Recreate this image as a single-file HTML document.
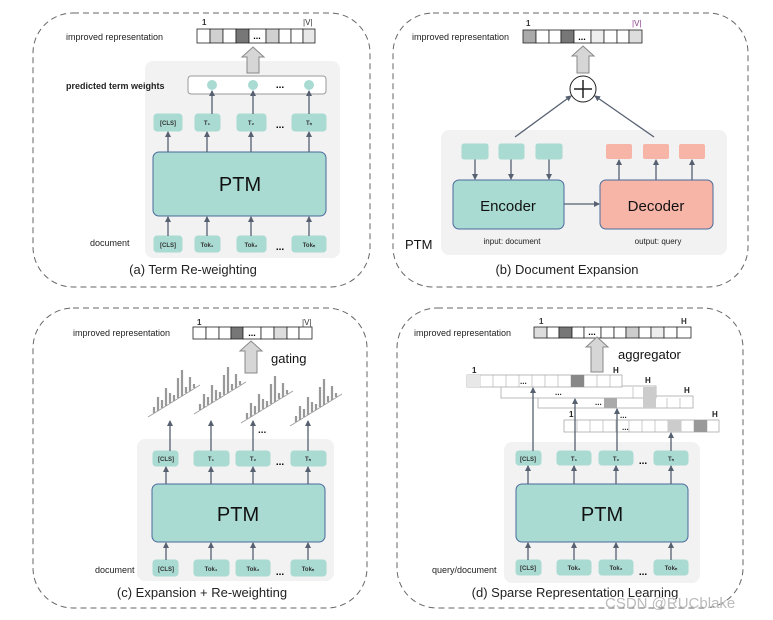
<!DOCTYPE html>
<html><head><meta charset="utf-8"><style>
body{margin:0;background:#fff}
svg{display:block;font-family:"Liberation Sans",sans-serif}
.t{font-size:6px;font-weight:bold;fill:#333;text-anchor:middle}
.lb{font-size:9px;fill:#222}
.cap{font-size:13px;fill:#222;text-anchor:middle}
.tok{fill:#a9dbd3;stroke:#a9dbd3}
.ln{stroke:#566070;stroke-width:1.3;fill:none}
.cell{stroke:#222;stroke-width:0.8}
</style></head><body>
<svg width="773" height="620" viewBox="0 0 773 620">
<defs>
<marker id="ah" markerWidth="6" markerHeight="6" refX="5" refY="3" orient="auto" markerUnits="userSpaceOnUse"><path d="M0,0 L6,3 L0,6 Z" fill="#566070"/></marker>
</defs>

<g fill="none" stroke="#666" stroke-dasharray="6,4" stroke-width="1">
<rect x="33" y="13" width="337" height="274" rx="40"/>
<rect x="393" y="13" width="355" height="274" rx="40"/>
<rect x="33" y="308" width="334" height="300" rx="40"/>
<rect x="397" y="308" width="346" height="300" rx="40"/>
</g>

<!-- (a) -->
<rect x="145" y="61" width="195" height="197" rx="8" fill="#f2f2f2"/>
<text x="66" y="40" class="lb">improved representation</text>
<text x="202" y="25" font-size="8" font-weight="bold" fill="#333">1</text>
<text x="303" y="25" font-size="8" fill="#333">|V|</text>
<g class="cell">
<rect x="197" y="29" width="13" height="14" fill="#fff"/><rect x="210" y="29" width="13" height="14" fill="#d0d0d0"/><rect x="223" y="29" width="13" height="14" fill="#fff"/><rect x="236" y="29" width="13" height="14" fill="#777"/><rect x="249" y="29" width="17" height="14" fill="#fff"/><rect x="266" y="29" width="13" height="14" fill="#d0d0d0"/><rect x="279" y="29" width="12" height="14" fill="#fff"/><rect x="291" y="29" width="12" height="14" fill="#fff"/><rect x="303" y="29" width="12" height="14" fill="#e8e8e8"/>
</g>
<text x="257" y="39" font-size="9" font-weight="bold" text-anchor="middle">...</text>
<path d="M253,47 L264,57 L259,57 L259,73 L247,73 L247,57 L242,57 Z" fill="#d6d6d6" stroke="#888"/>
<text x="66" y="89" class="lb" font-weight="bold">predicted term weights</text>
<rect x="188" y="76" width="138" height="18" rx="3" fill="#fff" stroke="#999"/>
<g fill="#a9dbd3"><circle cx="212" cy="85" r="5"/><circle cx="253" cy="85" r="5"/><circle cx="309" cy="85" r="5"/></g>
<text x="280" y="88" font-size="10" font-weight="bold" text-anchor="middle">...</text>
<g class="tok"><rect x="154" y="114" width="28" height="17" rx="3"/><rect x="195" y="114" width="25" height="17" rx="3"/><rect x="237" y="114" width="29" height="17" rx="3"/><rect x="292" y="114" width="34" height="17" rx="3"/>
<rect x="154" y="236" width="28" height="16" rx="3"/><rect x="195" y="236" width="25" height="16" rx="3"/><rect x="237" y="236" width="29" height="16" rx="3"/><rect x="292" y="236" width="34" height="16" rx="3"/></g>
<text x="168" y="125" class="t">[CLS]</text><text x="207" y="125" class="t">T₁</text><text x="251" y="125" class="t">T₂</text><text x="309" y="125" class="t">Tₙ</text>
<text x="168" y="247" class="t">[CLS]</text><text x="207" y="247" class="t">Tok₁</text><text x="251" y="247" class="t">Tok₂</text><text x="309" y="247" class="t">Tokₙ</text>
<text x="280" y="128" font-size="10" font-weight="bold" text-anchor="middle">...</text>
<text x="280" y="250" font-size="10" font-weight="bold" text-anchor="middle">...</text>
<rect x="153" y="152" width="173" height="64" rx="6" fill="#a9dbd3" stroke="#4a6a9a"/>
<text x="240" y="191" font-size="20" text-anchor="middle" fill="#111">PTM</text>
<g class="ln" marker-end="url(#ah)">
<line x1="168" y1="236" x2="168" y2="217"/><line x1="207" y1="236" x2="207" y2="217"/><line x1="251" y1="236" x2="251" y2="217"/><line x1="309" y1="236" x2="309" y2="217"/>
<line x1="168" y1="152" x2="168" y2="132"/><line x1="207" y1="152" x2="207" y2="132"/><line x1="251" y1="152" x2="251" y2="132"/><line x1="309" y1="152" x2="309" y2="132"/>
<line x1="212" y1="114" x2="212" y2="91"/><line x1="253" y1="114" x2="253" y2="91"/><line x1="309" y1="114" x2="309" y2="91"/>
</g>
<text x="90" y="246" font-size="9" fill="#222">document</text>
<text x="193" y="274" class="cap">(a) Term Re-weighting</text>

<!-- (b) -->
<rect x="441" y="130" width="286" height="125" rx="8" fill="#f2f2f2"/>
<text x="412" y="40" class="lb">improved representation</text>
<text x="526" y="26" font-size="8" font-weight="bold" fill="#333">1</text>
<text x="632" y="26" font-size="8" fill="#8a3a8a">|V|</text>
<g class="cell">
<rect x="523" y="30" width="13" height="13" fill="#aaa"/><rect x="536" y="30" width="13" height="13" fill="#fff"/><rect x="549" y="30" width="12" height="13" fill="#fff"/><rect x="561" y="30" width="13" height="13" fill="#777"/><rect x="574" y="30" width="17" height="13" fill="#fff"/><rect x="591" y="30" width="13" height="13" fill="#eee"/><rect x="604" y="30" width="13" height="13" fill="#fff"/><rect x="617" y="30" width="12" height="13" fill="#fff"/><rect x="629" y="30" width="13" height="13" fill="#ddd"/>
</g>
<text x="582" y="40" font-size="9" font-weight="bold" text-anchor="middle">...</text>
<path d="M583,46 L594,56 L589,56 L589,73 L577,73 L577,56 L572,56 Z" fill="#d6d6d6" stroke="#888"/>
<circle cx="583" cy="89" r="13" fill="#fff" stroke="#222"/>
<line x1="583" y1="80" x2="583" y2="98" stroke="#222" stroke-width="1.5"/><line x1="574" y1="89" x2="592" y2="89" stroke="#222" stroke-width="1.5"/>
<g class="ln" marker-end="url(#ah)">
<line x1="515" y1="137" x2="571" y2="96"/><line x1="654" y1="137" x2="595" y2="96"/>
<line x1="475" y1="159" x2="475" y2="179"/><line x1="511" y1="159" x2="511" y2="179"/><line x1="549" y1="159" x2="549" y2="179"/>
<line x1="619" y1="180" x2="619" y2="160"/><line x1="656" y1="180" x2="656" y2="160"/><line x1="692" y1="180" x2="692" y2="160"/>
<line x1="564" y1="204" x2="599" y2="204"/>
</g>
<g class="tok"><rect x="462" y="144" width="26" height="15" rx="2"/><rect x="499" y="144" width="25" height="15" rx="2"/><rect x="536" y="144" width="26" height="15" rx="2"/></g>
<g fill="#f7b5a8"><rect x="606" y="144" width="26" height="15" rx="2"/><rect x="643" y="144" width="26" height="15" rx="2"/><rect x="679" y="144" width="26" height="15" rx="2"/></g>
<rect x="453" y="180" width="111" height="49" rx="6" fill="#a9dbd3" stroke="#4a6a9a"/>
<rect x="600" y="180" width="113" height="49" rx="6" fill="#f7b5a8" stroke="#4a6a9a"/>
<text x="508" y="211" font-size="15" text-anchor="middle" fill="#111">Encoder</text>
<text x="656" y="211" font-size="15" text-anchor="middle" fill="#111">Decoder</text>
<text x="512" y="244" font-size="8" text-anchor="middle" fill="#222">input: document</text>
<text x="658" y="244" font-size="8" text-anchor="middle" fill="#222">output: query</text>
<text x="405" y="249" font-size="13" fill="#111">PTM</text>
<text x="567" y="274" class="cap">(b) Document Expansion</text>

<!-- (c) -->
<rect x="137" y="439" width="197" height="142" rx="8" fill="#f2f2f2"/>
<text x="73" y="336" class="lb">improved representation</text>
<text x="197" y="325" font-size="8" font-weight="bold" fill="#333">1</text>
<text x="302" y="325" font-size="8" fill="#333">|V|</text>
<g class="cell">
<rect x="193" y="327" width="13" height="12" fill="#fff"/><rect x="206" y="327" width="13" height="12" fill="#fff"/><rect x="219" y="327" width="12" height="12" fill="#fff"/><rect x="231" y="327" width="12" height="12" fill="#777"/><rect x="243" y="327" width="18" height="12" fill="#fff"/><rect x="261" y="327" width="13" height="12" fill="#fff"/><rect x="274" y="327" width="13" height="12" fill="#ddd"/><rect x="287" y="327" width="12" height="12" fill="#fff"/><rect x="299" y="327" width="13" height="12" fill="#fff"/>
</g>
<text x="252" y="336" font-size="9" font-weight="bold" text-anchor="middle">...</text>
<path d="M251,341 L262,351 L257,351 L257,373 L245,373 L245,351 L240,351 Z" fill="#d6d6d6" stroke="#888"/>
<text x="271" y="363" font-size="13" fill="#111">gating</text>
<g stroke="#999" stroke-width="2.2" fill="none">
<g id="h1" transform="translate(148,0)">
<line x1="0" y1="417" x2="52" y2="385" stroke-width="0.8"/>
<path d="M6,413 v-6 M10,411 v-14 M14,408 v-8 M18,406 v-18 M22,403 v-10 M26,401 v-6 M30,398 v-20 M34,396 v-26 M38,393 v-6 M42,391 v-14 M46,388 v-4"/>
</g>
<use href="#h1" transform="translate(46,-3)"/>
<use href="#h1" transform="translate(93,6)"/>
<use href="#h1" transform="translate(142,9)"/>
</g>
<text x="258" y="433" font-size="10" font-weight="bold" fill="#222">...</text>
<g class="tok"><rect x="153" y="451" width="25" height="15" rx="3"/><rect x="194" y="451" width="35" height="15" rx="3"/><rect x="236" y="451" width="34" height="15" rx="3"/><rect x="291" y="451" width="35" height="15" rx="3"/>
<rect x="153" y="560" width="25" height="16" rx="3"/><rect x="194" y="560" width="35" height="16" rx="3"/><rect x="236" y="560" width="34" height="16" rx="3"/><rect x="291" y="560" width="35" height="16" rx="3"/></g>
<text x="166" y="461" class="t">[CLS]</text><text x="211" y="461" class="t">T₁</text><text x="253" y="461" class="t">T₂</text><text x="308" y="461" class="t">Tₙ</text>
<text x="166" y="571" class="t">[CLS]</text><text x="211" y="571" class="t">Tok₁</text><text x="253" y="571" class="t">Tok₂</text><text x="308" y="571" class="t">Tokₙ</text>
<text x="280" y="465" font-size="10" font-weight="bold" text-anchor="middle">...</text>
<text x="280" y="575" font-size="10" font-weight="bold" text-anchor="middle">...</text>
<rect x="152" y="484" width="173" height="58" rx="6" fill="#a9dbd3" stroke="#4a6a9a"/>
<text x="238" y="521" font-size="20" text-anchor="middle" fill="#111">PTM</text>
<g class="ln" marker-end="url(#ah)">
<line x1="166" y1="560" x2="166" y2="543"/><line x1="211" y1="560" x2="211" y2="543"/><line x1="253" y1="560" x2="253" y2="543"/><line x1="308" y1="560" x2="308" y2="543"/>
<line x1="166" y1="484" x2="166" y2="467"/><line x1="211" y1="484" x2="211" y2="467"/><line x1="253" y1="484" x2="253" y2="467"/><line x1="308" y1="484" x2="308" y2="467"/>
<line x1="170" y1="451" x2="170" y2="421"/><line x1="211" y1="451" x2="211" y2="421"/><line x1="253" y1="451" x2="253" y2="421"/><line x1="308" y1="451" x2="308" y2="421"/>
</g>
<text x="95" y="573" font-size="9" fill="#222">document</text>
<text x="202" y="597" class="cap">(c) Expansion + Re-weighting</text>

<!-- (d) -->
<rect x="504" y="442" width="196" height="141" rx="8" fill="#f2f2f2"/>
<text x="414" y="336" class="lb">improved representation</text>
<text x="539" y="324" font-size="8" font-weight="bold" fill="#333">1</text>
<text x="681" y="324" font-size="8" font-weight="bold" fill="#333">H</text>
<g class="cell">
<rect x="534" y="327" width="13" height="11" fill="#ddd"/><rect x="547" y="327" width="12" height="11" fill="#fff"/><rect x="559" y="327" width="13" height="11" fill="#777"/><rect x="572" y="327" width="12" height="11" fill="#fff"/><rect x="584" y="327" width="17" height="11" fill="#fff"/><rect x="601" y="327" width="13" height="11" fill="#fff"/><rect x="614" y="327" width="12" height="11" fill="#fff"/><rect x="626" y="327" width="13" height="11" fill="#ccc"/><rect x="639" y="327" width="12" height="11" fill="#fff"/><rect x="651" y="327" width="13" height="11" fill="#eee"/><rect x="664" y="327" width="13" height="11" fill="#fff"/><rect x="677" y="327" width="14" height="11" fill="#fff"/>
</g>
<text x="592" y="335" font-size="9" font-weight="bold" text-anchor="middle">...</text>
<path d="M597,337 L608,347 L603,347 L603,372 L591,372 L591,347 L586,347 Z" fill="#d6d6d6" stroke="#888"/>
<text x="618" y="359" font-size="13" fill="#111">aggregator</text>
<g stroke="#aaa" stroke-width="0.8">
<rect x="538" y="396" width="155" height="12" fill="#fff"/>
<rect x="501" y="386" width="155" height="12" fill="#fff"/>
<rect x="467" y="375" width="155" height="12" fill="#fff"/>
<rect x="564" y="420" width="155" height="12" fill="#fff"/>
</g>
<g stroke="#aaa" stroke-width="0.6">
<path d="M480,375v12M493,375v12M506,375v12M519,375v12M532,375v12M545,375v12M558,375v12M571,375v12M584,375v12M597,375v12M610,375v12"/>
<path d="M633,387v11M646,387v11"/>
<path d="M667,398v10M680,398v10"/>
<path d="M577,420v12M590,420v12M603,420v12M616,420v12M629,420v12M642,420v12M655,420v12M668,420v12M681,420v12M694,420v12M707,420v12"/>
</g>
<rect x="467" y="375" width="13" height="12" fill="#e8e8e8"/>
<rect x="571" y="375" width="13" height="12" fill="#888"/>
<rect x="643" y="387" width="13" height="11" fill="#ccc"/>
<rect x="604" y="398" width="13" height="10" fill="#aaa"/>
<rect x="643" y="398" width="13" height="10" fill="#ccc"/>
<rect x="668" y="420" width="13" height="12" fill="#ccc"/>
<rect x="694" y="420" width="13" height="12" fill="#999"/>
<g font-size="8" font-weight="bold" fill="#222">
<text x="472" y="373">1</text><text x="613" y="373">H</text><text x="645" y="383">H</text><text x="684" y="393">H</text>
<text x="569" y="417">1</text><text x="712" y="417">H</text>
<text x="520" y="384">...</text><text x="555" y="395">...</text><text x="595" y="405">...</text><text x="620" y="418">...</text><text x="622" y="430">...</text>
</g>
<g class="tok"><rect x="516" y="451" width="25" height="14" rx="3"/><rect x="557" y="451" width="34" height="14" rx="3"/><rect x="599" y="451" width="34" height="14" rx="3"/><rect x="654" y="451" width="34" height="14" rx="3"/>
<rect x="516" y="560" width="25" height="15" rx="3"/><rect x="557" y="560" width="34" height="15" rx="3"/><rect x="599" y="560" width="34" height="15" rx="3"/><rect x="654" y="560" width="34" height="15" rx="3"/></g>
<text x="528" y="461" class="t">[CLS]</text><text x="574" y="461" class="t">T₁</text><text x="616" y="461" class="t">T₂</text><text x="671" y="461" class="t">Tₙ</text>
<text x="528" y="570" class="t">[CLS]</text><text x="574" y="570" class="t">Tok₁</text><text x="616" y="570" class="t">Tok₂</text><text x="671" y="570" class="t">Tokₙ</text>
<text x="643" y="464" font-size="10" font-weight="bold" text-anchor="middle">...</text>
<text x="643" y="575" font-size="10" font-weight="bold" text-anchor="middle">...</text>
<rect x="516" y="484" width="172" height="58" rx="6" fill="#a9dbd3" stroke="#4a6a9a"/>
<text x="602" y="521" font-size="20" text-anchor="middle" fill="#111">PTM</text>
<g class="ln" marker-end="url(#ah)">
<line x1="528" y1="560" x2="528" y2="543"/><line x1="574" y1="560" x2="574" y2="543"/><line x1="616" y1="560" x2="616" y2="543"/><line x1="671" y1="560" x2="671" y2="543"/>
<line x1="528" y1="484" x2="528" y2="466"/><line x1="574" y1="484" x2="574" y2="466"/><line x1="616" y1="484" x2="616" y2="466"/><line x1="671" y1="484" x2="671" y2="466"/>
<line x1="533" y1="451" x2="533" y2="388"/><line x1="575" y1="451" x2="575" y2="399"/><line x1="617" y1="451" x2="617" y2="409"/><line x1="671" y1="451" x2="671" y2="433"/>
</g>
<text x="432" y="573" font-size="9" fill="#222">query/document</text>
<text x="575" y="597" class="cap">(d) Sparse Representation Learning</text>
<text x="605" y="608" font-size="15" fill="#bbb">CSDN @RUCblake</text>
</svg>
</body></html>
